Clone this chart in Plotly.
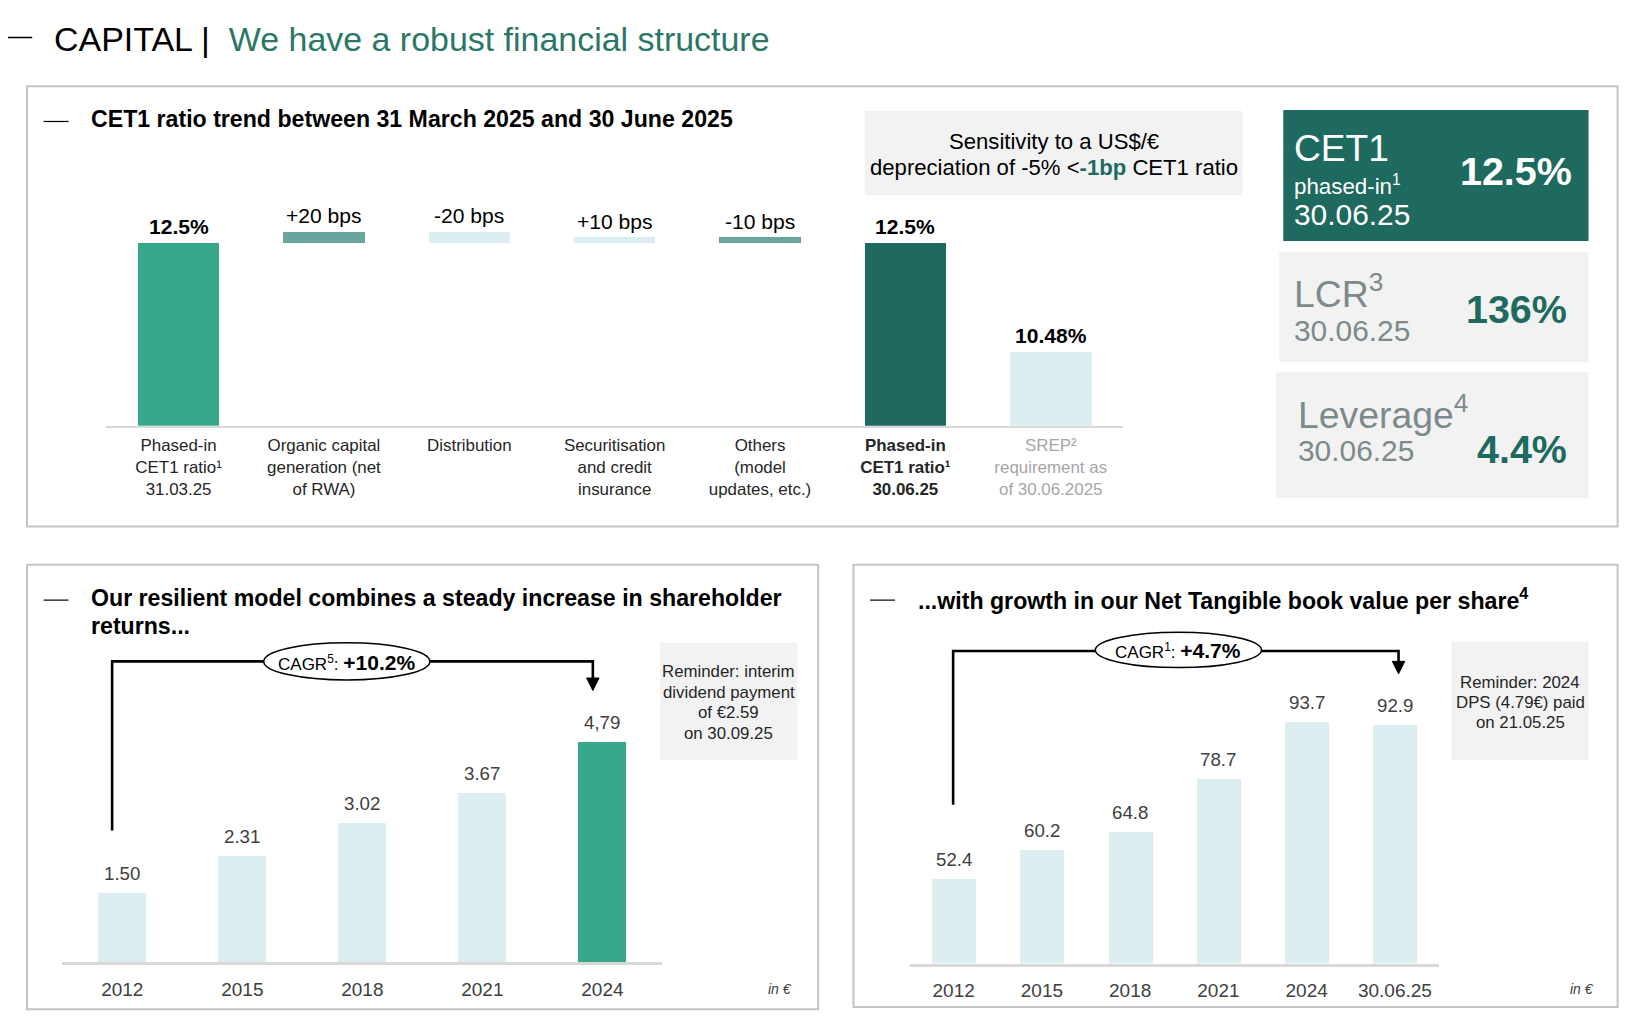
import plotly.graph_objects as go

# The page body adds an 8px margin, so the figure is made 16px smaller and shifted
WIN_W, WIN_H = 1628, 1028
OFF = 8
W, H = WIN_W - 2 * OFF, WIN_H - 2 * OFF
RW, RH = 1568.0, 990.0          # measuring grid used for layout positions
S = WIN_W / RW


def px(x):
    return (x * S - OFF) / W


def py(y):
    return 1 - (y * S - OFF) / H


def fs(s):
    return s * S


FONT = "Liberation Sans, Arial, sans-serif"
DARK = "#1f6a5e"
GREEN = "#37a98a"
MUTED = "#6aa59d"
LIGHT = "#ddeef0"
BOXGREY = "#f2f2f2"
TXT = "#404040"

# ---------------- DATA ----------------
wf_categories = [
    "Phased-in<br>CET1 ratio¹<br>31.03.25",
    "Organic capital<br>generation (net<br>of RWA)",
    "Distribution",
    "Securitisation<br>and credit<br>insurance",
    "Others<br>(model<br>updates, etc.)",
    "<b>Phased-in<br>CET1 ratio¹<br>30.06.25</b>",
    "<span style='color:#a6a6a6'>SREP²<br>requirement as<br>of 30.06.2025</span>",
]
wf_start = 12.5
wf_deltas = [0.20, -0.20, 0.10, -0.10]
wf_end = 12.5
wf_srep = 10.48
wf_labels = ["<b>12.5%</b>", "+20 bps", "-20 bps", "+10 bps", "-10 bps", "<b>12.5%</b>", "<b>10.48%</b>"]
wf_colors = [GREEN, MUTED, LIGHT, LIGHT, MUTED, DARK, LIGHT]

div_years = ["2012", "2015", "2018", "2021", "2024"]
div_values = [1.50, 2.31, 3.02, 3.67, 4.79]
div_labels = ["1.50", "2.31", "3.02", "3.67", "4,79"]
div_colors = [LIGHT, LIGHT, LIGHT, LIGHT, GREEN]

ntbv_periods = ["2012", "2015", "2018", "2021", "2024", "30.06.25"]
ntbv_values = [52.4, 60.2, 64.8, 78.7, 93.7, 92.9]
ntbv_labels = ["52.4", "60.2", "64.8", "78.7", "93.7", "92.9"]

# ---------------- FIGURE ----------------
fig = go.Figure()

wf_x = list(range(len(wf_categories)))
bases = [0]
vals = [wf_start]
level = wf_start
for d in wf_deltas:
    bases.append(level)
    vals.append(d)
    level += d
bases += [0, 0]
vals += [wf_end, wf_srep]
tops = [b + v if v > 0 else b for b, v in zip(bases, vals)]

fig.add_trace(go.Bar(x=wf_x, y=vals, base=bases, marker=dict(color=wf_colors, line=dict(width=0)),
                     width=0.56, xaxis="x", yaxis="y", hoverinfo="skip"))

div_x = list(range(len(div_years)))
fig.add_trace(go.Bar(x=div_x, y=div_values, marker=dict(color=div_colors, line=dict(width=0)),
                     width=0.405, xaxis="x2", yaxis="y2", hoverinfo="skip"))

ntbv_x = list(range(len(ntbv_periods)))
fig.add_trace(go.Bar(x=ntbv_x, y=ntbv_values, marker=dict(color=LIGHT, line=dict(width=0)),
                     width=0.5, xaxis="x3", yaxis="y3", hoverinfo="skip"))

annotations = []
shapes = []


def ann(x, y, text, size, color="black", xanchor="center", yanchor="middle", align="center", **kw):
    annotations.append(dict(x=px(x), y=py(y), xref="paper", yref="paper", text=text, showarrow=False,
                            font=dict(family=FONT, size=fs(size), color=color), xanchor=xanchor,
                            yanchor=yanchor, align=align, **kw))


for xi, t, lab in zip(wf_x, tops, wf_labels):
    annotations.append(dict(x=xi, y=t, xref="x", yref="y", text=lab, showarrow=False, yanchor="bottom",
                            yshift=3, font=dict(family=FONT, size=fs(20.3), color="black")))
for xi, v, lab in zip(div_x, div_values, div_labels):
    annotations.append(dict(x=xi, y=v, xref="x2", yref="y2", text=lab, showarrow=False, yanchor="bottom",
                            yshift=7, font=dict(family=FONT, size=fs(18), color=TXT)))
for xi, v, lab in zip(ntbv_x, ntbv_values, ntbv_labels):
    annotations.append(dict(x=xi, y=v, xref="x3", yref="y3", text=lab, showarrow=False, yanchor="bottom",
                            yshift=7, font=dict(family=FONT, size=fs(18), color=TXT)))


def rect(x0, y0, x1, y1, fill=None, line=None, lw=0):
    shapes.append(dict(type="rect", xref="paper", yref="paper", x0=px(x0), x1=px(x1), y0=py(y1), y1=py(y0),
                       fillcolor=fill or "rgba(0,0,0,0)", line=dict(color=line or "rgba(0,0,0,0)", width=lw),
                       layer="below"))


def hline(x0, x1, y, color="black", w=1.2):
    shapes.append(dict(type="line", xref="paper", yref="paper", x0=px(x0), x1=px(x1), y0=py(y), y1=py(y),
                       line=dict(color=color, width=w)))


rect(26, 83, 1558, 507, line="#c4c4c4", lw=2)
rect(26, 544, 788, 972, line="#c4c4c4", lw=2)
rect(822, 544, 1558, 970, line="#c4c4c4", lw=2)

hline(0, 31, 36, w=1.5)
ann(50, 38, "CAPITAL |  <span style='color:#2b7767'>We have a robust financial structure</span>", 32.7,
    xanchor="left")

hline(42, 66, 117, w=1.2)
ann(86, 115, "<b>CET1 ratio trend between 31 March 2025 and 30 June 2025</b>", 22.3, xanchor="left")
hline(42, 66, 578, w=1.2)
ann(86, 576, "<b>Our resilient model combines a steady increase in shareholder</b>", 22.3, xanchor="left")
ann(86, 603, "<b>returns...</b>", 22.3, xanchor="left")
hline(838, 862, 578, w=1.2)
ann(882, 577, "<b>...with growth in our Net Tangible book value per share<sup>4</sup></b>", 22.3, xanchor="left")

rect(833, 107, 1197, 188, fill=BOXGREY)
ann(1015, 136, "Sensitivity to a US$/€", 21.3)
ann(1015, 161, "depreciation of -5% &lt;<span style='color:" + DARK + "'><b>-1bp</b></span> CET1 ratio", 21.3)

rect(1236, 106, 1530, 232, fill=DARK)
ann(1244, 143, "CET1", 35.8, color="white", xanchor="left")
ann(1244, 178, "phased-in<sup>1</sup>", 21.5, color="white", xanchor="left")
ann(1244, 207, "30.06.25", 28.8, color="white", xanchor="left")
ann(1516, 165, "<b>12.5%</b>", 38, color="white", xanchor="right")

KGREY = "#7d8a8c"
rect(1232, 243, 1530, 349, fill=BOXGREY)
ann(1244, 280, "LCR<sup>3</sup>", 36, color=KGREY, xanchor="left")
ann(1244, 318, "30.06.25", 28.8, color=KGREY, xanchor="left")
ann(1511, 298, "<b>136%</b>", 38, color=DARK, xanchor="right")

rect(1229, 358, 1530, 480, fill=BOXGREY)
ann(1248, 397, "Leverage<sup>4</sup>", 36, color=KGREY, xanchor="left")
ann(1248, 434, "30.06.25", 28.8, color=KGREY, xanchor="left")
ann(1511, 432, "<b>4.4%</b>", 38, color=DARK, xanchor="right")

rect(636, 619, 768, 732, fill=BOXGREY)
for i, line in enumerate(["Reminder: interim", "dividend payment", "of €2.59", "on 30.09.25"]):
    ann(702, 647 + 19.7 * i, line, 16.2, color="#262626")
rect(1398, 618, 1530, 732, fill=BOXGREY)
for i, line in enumerate(["Reminder: 2024", "DPS (4.79€) paid", "on 21.05.25"]):
    ann(1464, 657 + 19.5 * i, line, 16.2, color="#262626")

ann(765, 953, "<i>in €</i>", 13.5, color=TXT, xanchor="right")
ann(1537, 953, "<i>in €</i>", 13.5, color=TXT, xanchor="right")


def bracket(xl, ybot, ytop, xr, yarrow, ex0, ex1, ey0, ey1, text):
    path = "M %f,%f L %f,%f L %f,%f L %f,%f" % (px(xl), py(ybot), px(xl), py(ytop), px(xr), py(ytop),
                                                px(xr), py(yarrow - 2))
    shapes.append(dict(type="path", xref="paper", yref="paper", path=path, line=dict(color="black", width=2.6)))
    tri = "M %f,%f L %f,%f L %f,%f Z" % (px(xr - 6), py(yarrow - 3), px(xr + 6), py(yarrow - 3), px(xr),
                                         py(yarrow + 9))
    shapes.append(dict(type="path", xref="paper", yref="paper", path=tri, fillcolor="black",
                       line=dict(color="black", width=1)))
    shapes.append(dict(type="circle", xref="paper", yref="paper", x0=px(ex0), x1=px(ex1), y0=py(ey1), y1=py(ey0),
                       fillcolor="white", line=dict(color="black", width=1.5)))
    ann((ex0 + ex1) / 2, (ey0 + ey1) / 2 + 1, text, 16.4)


big = str(round(fs(20)))
bracket(108, 800, 637, 571, 656, 254, 414, 619, 655,
        "CAGR<sup>5</sup>: <span style='font-size:" + big + "px'><b>+10.2%</b></span>")
bracket(918, 775, 627, 1347, 640, 1055, 1215, 609, 643,
        "CAGR<sup>1</sup>: <span style='font-size:" + big + "px'><b>+4.7%</b></span>")

hidden_y = dict(showgrid=False, zeroline=False, showticklabels=False, showline=False, ticks="")
wf_v0 = 9.11
wf_k = 51.9

fig.update_layout(
    width=W, height=H, margin=dict(l=0, r=0, t=0, b=0),
    paper_bgcolor="white", plot_bgcolor="rgba(0,0,0,0)", showlegend=False, bargap=0,
    font=dict(family=FONT, color="black"),
    xaxis=dict(domain=[px(102), px(1082)], range=[-0.5, 6.5], tickmode="array", tickvals=wf_x,
               ticktext=wf_categories, showgrid=False, zeroline=False, showline=True,
               linecolor="#d9d9d9", linewidth=2, ticks="", ticklabelstandoff=3,
               tickfont=dict(family=FONT, size=fs(16.3), color="#262626"), anchor="y"),
    yaxis=dict(domain=[py(410), py(190)], range=[wf_v0, wf_v0 + 220 / wf_k], anchor="x", **hidden_y),
    xaxis2=dict(domain=[px(60), px(638)], range=[-0.5, 4.5], tickmode="array", tickvals=div_x,
                ticktext=div_years, showgrid=False, zeroline=False,
                showline=True, linecolor="#d9d9d9", linewidth=2.5, ticks="", ticklabelstandoff=8,
                tickfont=dict(family=FONT, size=fs(18.3), color=TXT), anchor="y2"),
    yaxis2=dict(domain=[py(927), py(600)], range=[0, 327 / 44.4], anchor="x2", **hidden_y),
    xaxis3=dict(domain=[px(876), px(1386)], range=[-0.5, 5.5], tickmode="array", tickvals=ntbv_x,
                ticktext=ntbv_periods, showgrid=False, zeroline=False,
                showline=True, linecolor="#d9d9d9", linewidth=2.5, ticks="", ticklabelstandoff=8,
                tickfont=dict(family=FONT, size=fs(18.3), color=TXT), anchor="y3"),
    yaxis3=dict(domain=[py(928), py(600)], range=[30.4, 30.4 + 328 / 3.68], anchor="x3", **hidden_y),
    annotations=annotations,
    shapes=shapes,
)

fig.write_html("out.html")
